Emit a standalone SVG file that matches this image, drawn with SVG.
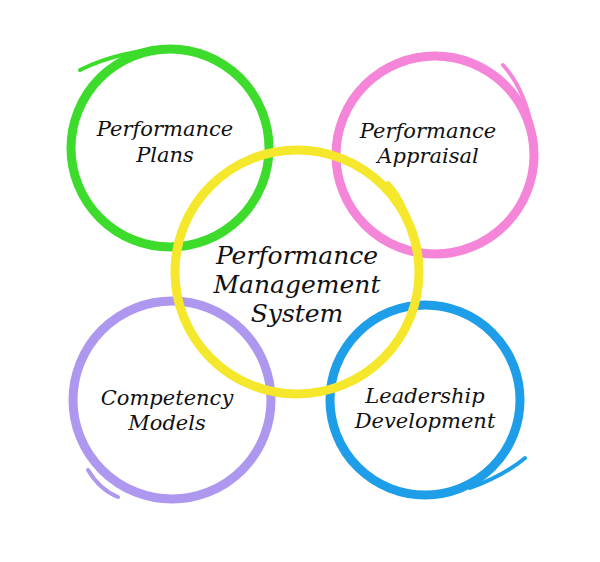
<svg xmlns="http://www.w3.org/2000/svg" width="600" height="562" viewBox="0 0 600 562">
<style>
.r{fill:none;stroke-width:9;stroke-linecap:round}
.t{fill:none;stroke-width:4;stroke-linecap:round}
text{font-family:"DejaVu Serif","Liberation Serif",serif;font-style:italic;font-size:21px;fill:#111;text-anchor:middle}
.big{font-size:25px}
</style>
<rect width="600" height="562" fill="#fff"/>
<g id="plans"><circle class="r" cx="170" cy="148" r="99" stroke="#3ddc2c"/><path class="t" stroke="#3ddc2c" d="M80 70 Q120 50 175 48"/><text x="165" y="136">Performance</text><text x="165" y="162">Plans</text></g>
<g id="appraisal"><circle class="r" cx="435" cy="155" r="99" stroke="#f585d8"/><path class="t" stroke="#f585d8" d="M503 65 Q530 95 535 150"/><text x="428" y="138">Performance</text><text x="428" y="163">Appraisal</text></g>
<g id="competency"><circle class="r" cx="172" cy="400" r="99" stroke="#ad97ef"/><path class="t" stroke="#ad97ef" d="M88 470 Q100 490 118 497"/><text x="167" y="405">Competency</text><text x="167" y="430">Models</text></g>
<g id="leadership"><circle class="r" cx="425" cy="400" r="95" stroke="#1e9ee8"/><path class="t" stroke="#1e9ee8" d="M525 458 Q505 475 470 488"/><text x="425" y="403">Leadership</text><text x="425" y="428">Development</text></g>
<g id="pms"><circle class="r" cx="297" cy="272" r="122" stroke="#f5e72c"/><path class="t" stroke="#f5e72c" d="M388 183 Q405 200 415 240"/><text class="big" x="297" y="264">Performance</text><text class="big" x="297" y="293">Management</text><text class="big" x="297" y="322">System</text></g>
<g id="connectors"/>
</svg>
